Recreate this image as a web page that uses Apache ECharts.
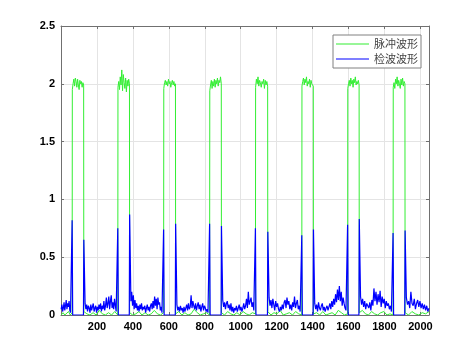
<!DOCTYPE html>
<html>
<head>
<meta charset="utf-8">
<script src="https://cdn.jsdelivr.net/npm/echarts@6/dist/echarts.min.js"></script>
<style>
  html, body { margin: 0; padding: 0; background: #fff; }
  #main { width: 474px; height: 354px; }
</style>
</head>
<body>
<div id="main"></div>
<script>
// 脉冲波形 / 检波波形 数据
var seriesNames = ['脉冲波形', '检波波形'];
var xTicks = [200, 400, 600, 800, 1000, 1200, 1400, 1600, 1800, 2000];
var yTicks = [0, 0.5, 1, 1.5, 2, 2.5];

var pulseOn  = [63, 317, 572, 828, 1083, 1341, 1596, 1849];
var pulseOff = [126, 381, 637, 892, 1150, 1404, 1659, 1914];

// 脉冲顶部 (绿色)
var greenTop = [
  [1.95, 2.0, 2.04, 1.98, 2.05, 2.02, 1.97, 2.04, 1.99, 1.95, 2.03, 2.0, 2.02, 1.97, 2.01, 1.99],
  [1.97, 2.02, 1.95, 2.06, 1.99, 2.12, 1.94, 2.08, 2.01, 1.96, 2.05, 1.93, 2.03, 1.98, 2.04, 2.0],
  [1.96, 2.01, 2.03, 1.99, 2.02, 1.98, 2.04, 2.0, 2.02, 1.97, 2.01, 2.03, 1.99, 2.02, 1.98, 2.0],
  [1.94, 1.99, 2.03, 1.96, 2.02, 1.98, 2.04, 1.97, 2.03, 2.0, 2.05, 1.98, 2.03, 2.01, 2.06, 2.0],
  [1.97, 2.04, 2.0, 2.06, 1.98, 2.03, 2.01, 1.97, 2.02, 2.0, 2.04, 1.96, 2.03, 1.99, 2.02, 1.98],
  [1.98, 2.02, 2.05, 1.99, 2.04, 2.01, 2.06, 1.98, 2.02, 2.0, 2.04, 1.97, 2.03, 2.0, 2.01, 1.98],
  [1.96, 2.0, 2.03, 1.98, 2.05, 2.0, 2.03, 1.97, 2.04, 2.01, 2.06, 1.99, 2.02, 2.0, 2.03, 1.99],
  [1.97, 2.01, 1.96, 2.04, 2.0, 2.06, 1.98, 2.03, 2.0, 1.96, 2.04, 1.99, 2.05, 1.98, 2.02, 2.0]
];
// 脉冲间低电平 (绿色)
var greenLow = [
  [0, 0.02, 0, 0.01, 0.03, 0, 0.02],
  [0.03, 0.01, 0, 0.02, 0, 0.04, 0.01, 0, 0.02, 0, 0.03, 0],
  [0.02, 0, 0.01, 0.03, 0, 0.02, 0, 0.01, 0.04, 0.01, 0, 0.02],
  [0.01, 0.03, 0, 0.02, 0, 0.01, 0.05, 0.02, 0, 0.01, 0.02, 0],
  [0.02, 0, 0.03, 0.01, 0, 0.02, 0, 0.03, 0.01, 0, 0.02, 0.01],
  [0.03, 0, 0.02, 0.01, 0.04, 0, 0.01, 0.02, 0, 0.03, 0.01, 0],
  [0.01, 0.02, 0, 0.03, 0, 0.01, 0.02, 0, 0.04, 0.02, 0, 0.01],
  [0.02, 0.04, 0.01, 0, 0.03, 0.01, 0, 0.02, 0.03, 0, 0.01, 0],
  [0.02, 0, 0.03, 0.01, 0, 0.02, 0.01, 0.03]
];

// 检波尖峰 (蓝色)
var riseSpike = [0.82, 0.75, 0.74, 0.79, 0.75, 0.69, 0.78, 0.71];
var fallSpike = [0.65, 0.87, 0.79, 0.77, 0.72, 0.74, 0.83, 0.73];
// 检波噪声 (蓝色)
var blueGap = [
  [0.05, 0.09, 0.03, 0.06, 0.11, 0.04, 0.08, 0.13, 0.05, 0.1, 0.07, 0.12, 0.04, 0.02],
  [0.1, 0.05, 0.09, 0.03, 0.08, 0.06, 0.02, 0.09, 0.04, 0.07, 0.1, 0.03, 0.06, 0.08, 0.02, 0.07, 0.04, 0.09, 0.05, 0.1, 0.03, 0.08, 0.05, 0.12, 0.04, 0.08, 0.15, 0.06, 0.1, 0.16, 0.05, 0.12, 0.17, 0.06, 0.11, 0.05, 0.14, 0.08, 0.03],
  [0.12, 0.2, 0.08, 0.17, 0.05, 0.13, 0.06, 0.1, 0.04, 0.08, 0.03, 0.09, 0.05, 0.1, 0.04, 0.07, 0.05, 0.08, 0.02, 0.06, 0.09, 0.04, 0.07, 0.03, 0.08, 0.1, 0.05, 0.12, 0.06, 0.16, 0.08, 0.14, 0.05, 0.15, 0.09, 0.11, 0.04, 0.07, 0.02],
  [0.09, 0.04, 0.07, 0.03, 0.08, 0.04, 0.06, 0.02, 0.07, 0.03, 0.06, 0.09, 0.04, 0.1, 0.05, 0.07, 0.17, 0.06, 0.12, 0.08, 0.05, 0.1, 0.04, 0.08, 0.11, 0.05, 0.09, 0.03, 0.07, 0.1, 0.04, 0.08, 0.06, 0.03, 0.05, 0.02],
  [0.13, 0.07, 0.11, 0.05, 0.1, 0.12, 0.06, 0.09, 0.04, 0.1, 0.03, 0.07, 0.02, 0.06, 0.04, 0.08, 0.03, 0.06, 0.09, 0.04, 0.07, 0.03, 0.06, 0.1, 0.05, 0.08, 0.14, 0.06, 0.2, 0.09, 0.12, 0.15, 0.07, 0.11, 0.04],
  [0.15, 0.08, 0.13, 0.06, 0.14, 0.09, 0.04, 0.12, 0.07, 0.1, 0.05, 0.03, 0.07, 0.04, 0.09, 0.05, 0.11, 0.13, 0.06, 0.15, 0.09, 0.12, 0.05, 0.09, 0.04, 0.11, 0.07, 0.16, 0.06, 0.1, 0.13, 0.05, 0.08, 0.03],
  [0.1, 0.05, 0.09, 0.03, 0.11, 0.06, 0.04, 0.08, 0.1, 0.04, 0.07, 0.03, 0.06, 0.08, 0.04, 0.07, 0.1, 0.05, 0.12, 0.07, 0.14, 0.09, 0.18, 0.11, 0.22, 0.13, 0.25, 0.12, 0.2, 0.08, 0.15, 0.1, 0.06, 0.04],
  [0.16, 0.09, 0.14, 0.07, 0.12, 0.05, 0.1, 0.08, 0.06, 0.11, 0.04, 0.13, 0.08, 0.23, 0.12, 0.2, 0.09, 0.18, 0.11, 0.21, 0.07, 0.16, 0.1, 0.14, 0.06, 0.12, 0.08, 0.1, 0.05, 0.08, 0.03],
  [0.15, 0.09, 0.12, 0.06, 0.2, 0.1, 0.08, 0.14, 0.05, 0.1, 0.13, 0.07, 0.12, 0.06, 0.1, 0.05, 0.09, 0.04, 0.08, 0.03, 0.06]
];

var xMax = 2048;

// 把一段数值铺到 [a, b] 区间上
function seg(a, b, vals) {
  var out = [];
  var n = vals.length;
  for (var i = 0; i < n; i++) {
    out.push([a + (n > 1 ? i * (b - a) / (n - 1) : 0), vals[i]]);
  }
  return out;
}

var greenData = [];
var blueData = [];
for (var k = 0; k <= pulseOn.length; k++) {
  var gStart = k === 0 ? 1 : pulseOff[k - 1] + 1;
  var gEnd = k === pulseOn.length ? xMax : pulseOn[k] - 1;
  greenData = greenData.concat(seg(gStart, gEnd, greenLow[k]));
  var bStart = k === 0 ? 1 : pulseOff[k - 1] + 8;
  var bEnd = k === pulseOn.length ? xMax : pulseOn[k] - 10;
  blueData = blueData.concat(seg(bStart, bEnd, blueGap[k]));
  if (k < pulseOn.length) {
    greenData = greenData.concat(seg(pulseOn[k], pulseOff[k], greenTop[k]));
    blueData.push([pulseOn[k] - 1, riseSpike[k]]);
    blueData.push([pulseOn[k] + 2, 0]);
    blueData.push([pulseOff[k] - 1, 0]);
    blueData.push([pulseOff[k] + 1, fallSpike[k]]);
  }
}

var myChart = echarts.init(document.getElementById('main'));
var labelFont = { color: '#000', fontSize: 11, fontWeight: 'bold', fontFamily: 'Liberation Sans, Arial, sans-serif' };
var axisGray = '#707070';

myChart.setOption({
  animation: false,
  backgroundColor: '#fff',
  grid: { left: 61, right: 45, top: 26, bottom: 39, containLabel: false },
  legend: {
    data: seriesNames,
    orient: 'vertical',
    right: 53,
    top: 35,
    padding: [2, 3, 2, 3],
    itemGap: 1,
    itemWidth: 33,
    itemHeight: 1,
    icon: 'rect',
    backgroundColor: '#fff',
    borderColor: '#808080',
    borderWidth: 1,
    textStyle: { color: '#444', fontSize: 11, lineHeight: 14, fontFamily: 'Noto Sans CJK SC' }
  },
  xAxis: [{
    type: 'value', min: 0, max: xMax, interval: 200,
    axisLine: { show: true, lineStyle: { color: axisGray } },
    axisTick: { inside: true, length: 3, lineStyle: { color: axisGray } },
    axisLabel: Object.assign({
      margin: 6,
      formatter: function (v) { return xTicks.indexOf(v) >= 0 ? String(v) : ''; }
    }, labelFont),
    splitLine: { show: true, lineStyle: { color: '#e4e4e4' } }
  }, {
    type: 'value', position: 'top', min: 0, max: xMax, interval: 200,
    axisLine: { show: true, onZero: false, lineStyle: { color: axisGray } },
    axisTick: { inside: true, length: 3, lineStyle: { color: axisGray } },
    axisLabel: { show: false },
    splitLine: { show: false }
  }],
  yAxis: [{
    type: 'value', min: 0, max: 2.5, interval: 0.5,
    axisLine: { show: true, lineStyle: { color: axisGray } },
    axisTick: { show: true, inside: true, length: 3, lineStyle: { color: axisGray } },
    axisLabel: Object.assign({
      margin: 6,
      formatter: function (v) { return yTicks.indexOf(v) >= 0 ? String(v) : ''; }
    }, labelFont),
    splitLine: { show: true, lineStyle: { color: '#e4e4e4' } }
  }, {
    type: 'value', position: 'right', min: 0, max: 2.5, interval: 0.5,
    axisLine: { show: true, onZero: false, lineStyle: { color: axisGray } },
    axisTick: { show: true, inside: true, length: 3, lineStyle: { color: axisGray } },
    axisLabel: { show: false },
    splitLine: { show: false }
  }],
  series: [{
    name: seriesNames[0],
    type: 'line',
    data: greenData,
    showSymbol: false,
    symbol: 'none',
    color: '#33ee33',
    lineStyle: { width: 1, color: '#33ee33' }
  }, {
    name: seriesNames[1],
    type: 'line',
    data: blueData,
    showSymbol: false,
    symbol: 'none',
    color: '#0000ff',
    lineStyle: { width: 1.2, color: '#0000ff' }
  }]
});
</script>
</body>
</html>
